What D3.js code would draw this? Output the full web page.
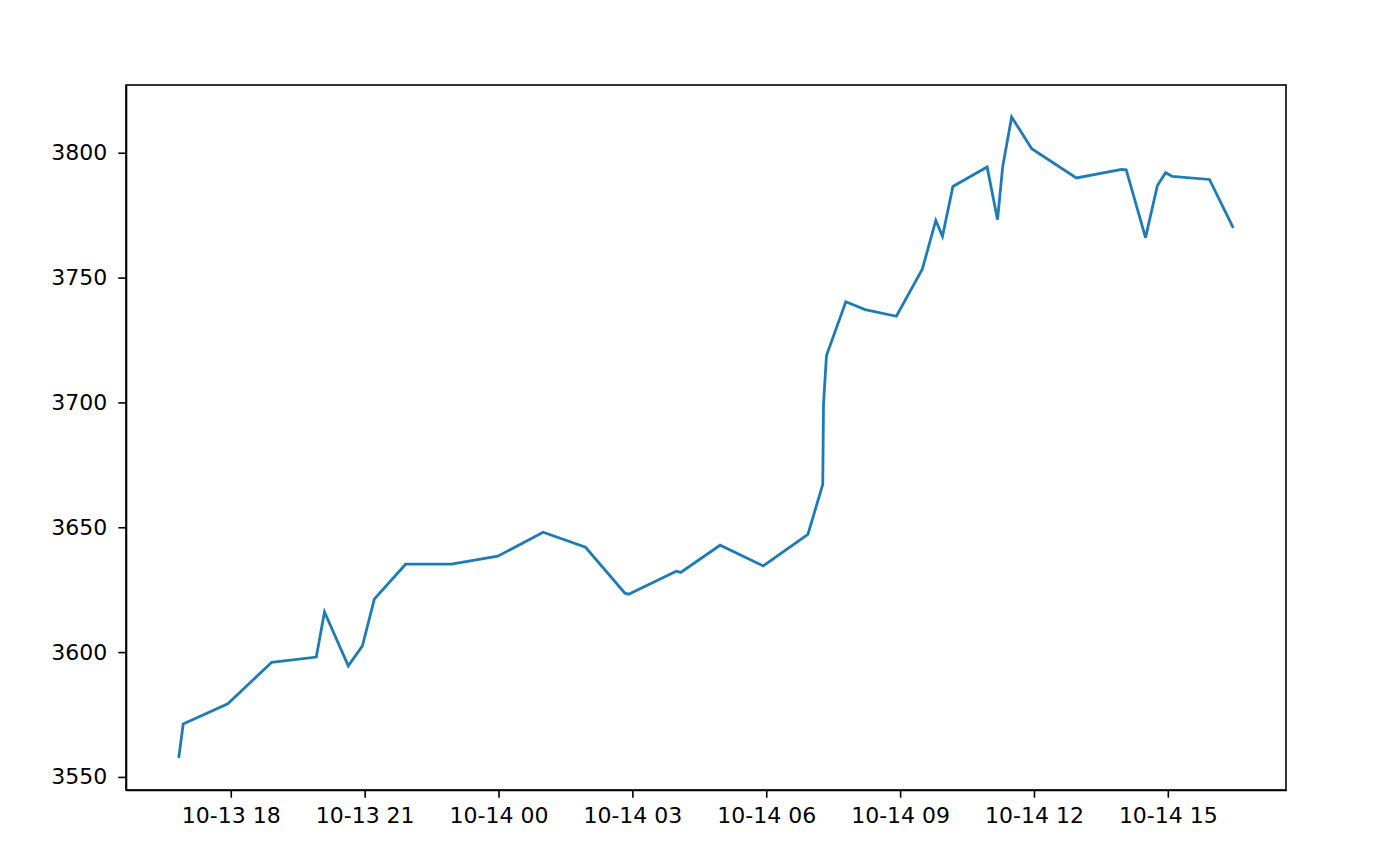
<!DOCTYPE html>
<html lang="en">
<head>
    <meta charset="UTF-8">
    <title>Price</title>
    <script src="https://d3js.org/d3.v7.min.js"></script>
    <style>
        body { margin: 0; background: #fff; }
        .axis text { font-family: "DejaVu Sans", sans-serif; font-size: 22px; fill: #000; }
        .axis path, .axis line { stroke: #000; stroke-width: 1.6px; }
    </style>
</head>
<body>
    <svg id="chart" width="1400" height="862"></svg>
    <script>
        // timestamps and prices
        const times = [
            "10-13 16:50", "10-13 16:56", "10-13 17:56", "10-13 18:55", "10-13 19:55",
            "10-13 20:06", "10-13 20:38", "10-13 20:57", "10-13 21:13", "10-13 21:55",
            "10-13 22:57", "10-13 23:59", "10-14 01:00", "10-14 01:57", "10-14 02:50",
            "10-14 02:55", "10-14 03:59", "10-14 04:05", "10-14 04:58", "10-14 05:56",
            "10-14 06:56", "10-14 07:16", "10-14 07:17", "10-14 07:21", "10-14 07:47",
            "10-14 08:13", "10-14 08:55", "10-14 09:30", "10-14 09:48", "10-14 09:57",
            "10-14 10:11", "10-14 10:57", "10-14 11:11", "10-14 11:18", "10-14 11:30",
            "10-14 11:57", "10-14 12:57", "10-14 13:58", "10-14 14:04", "10-14 14:30",
            "10-14 14:46", "10-14 14:57", "10-14 15:06", "10-14 15:56", "10-14 16:28"
        ];
        const prices = [
            3557.6, 3571.2, 3579.3, 3595.9, 3598.0,
            3616.1, 3594.5, 3602.5, 3621.2, 3635.2,
            3635.2, 3638.4, 3648.0, 3642.0, 3623.6,
            3623.2, 3632.4, 3631.9, 3642.8, 3634.5,
            3647.1, 3667.2, 3699.2, 3718.8, 3740.3,
            3737.2, 3734.5, 3753.5, 3772.9, 3766.5,
            3786.5, 3794.3, 3773.2, 3794.5, 3814.3,
            3801.6, 3789.9, 3793.3, 3793.2, 3766.0,
            3786.9, 3792.0, 3790.5, 3789.3, 3769.9
        ];
        const yTicks = [3550, 3600, 3650, 3700, 3750, 3800];

        const parse = d3.timeParse("%Y-%m-%d %H:%M");
        const data = times.map((t, i) => ({ date: parse("2021-" + t), value: prices[i] }));

        const plotL = 126, plotR = 1286, plotT = 85, plotB = 790;
        const svg = d3.select("#chart");

        // matplotlib-like 5% margins
        const xExt = d3.extent(data, d => d.date);
        const xPad = (xExt[1] - xExt[0]) * 0.05;
        const yExt = d3.extent(data, d => d.value);
        const yPad = (yExt[1] - yExt[0]) * 0.05;

        const x = d3.scaleTime()
            .domain([new Date(+xExt[0] - xPad), new Date(+xExt[1] + xPad)])
            .range([plotL, plotR]);
        const y = d3.scaleLinear()
            .domain([yExt[0] - yPad, yExt[1] + yPad])
            .range([plotB, plotT]);

        const line = d3.line()
            .x(d => x(d.date))
            .y(d => y(d.value));

        svg.append("path")
            .datum(data)
            .attr("fill", "none")
            .attr("stroke", "#1f7bb6")
            .attr("stroke-width", 2.8)
            .attr("stroke-linejoin", "miter")
            .attr("d", line);

        svg.append("g")
            .attr("class", "axis")
            .attr("transform", `translate(0,${plotB})`)
            .call(d3.axisBottom(x)
                .ticks(d3.timeHour.every(3))
                .tickFormat(d3.timeFormat("%m-%d %H"))
                .tickSizeInner(7.7)
                .tickSizeOuter(0)
                .tickPadding(10));

        svg.append("g")
            .attr("class", "axis")
            .attr("transform", `translate(${plotL},0)`)
            .call(d3.axisLeft(y)
                .tickValues(yTicks)
                .tickFormat(d3.format("d"))
                .tickSizeInner(7.7)
                .tickSizeOuter(0)
                .tickPadding(11));

        // frame
        svg.append("rect")
            .attr("x", plotL).attr("y", plotT)
            .attr("width", plotR - plotL).attr("height", plotB - plotT)
            .attr("fill", "none")
            .attr("stroke", "#000")
            .attr("stroke-width", 1.6);
    </script>
</body>
</html>
